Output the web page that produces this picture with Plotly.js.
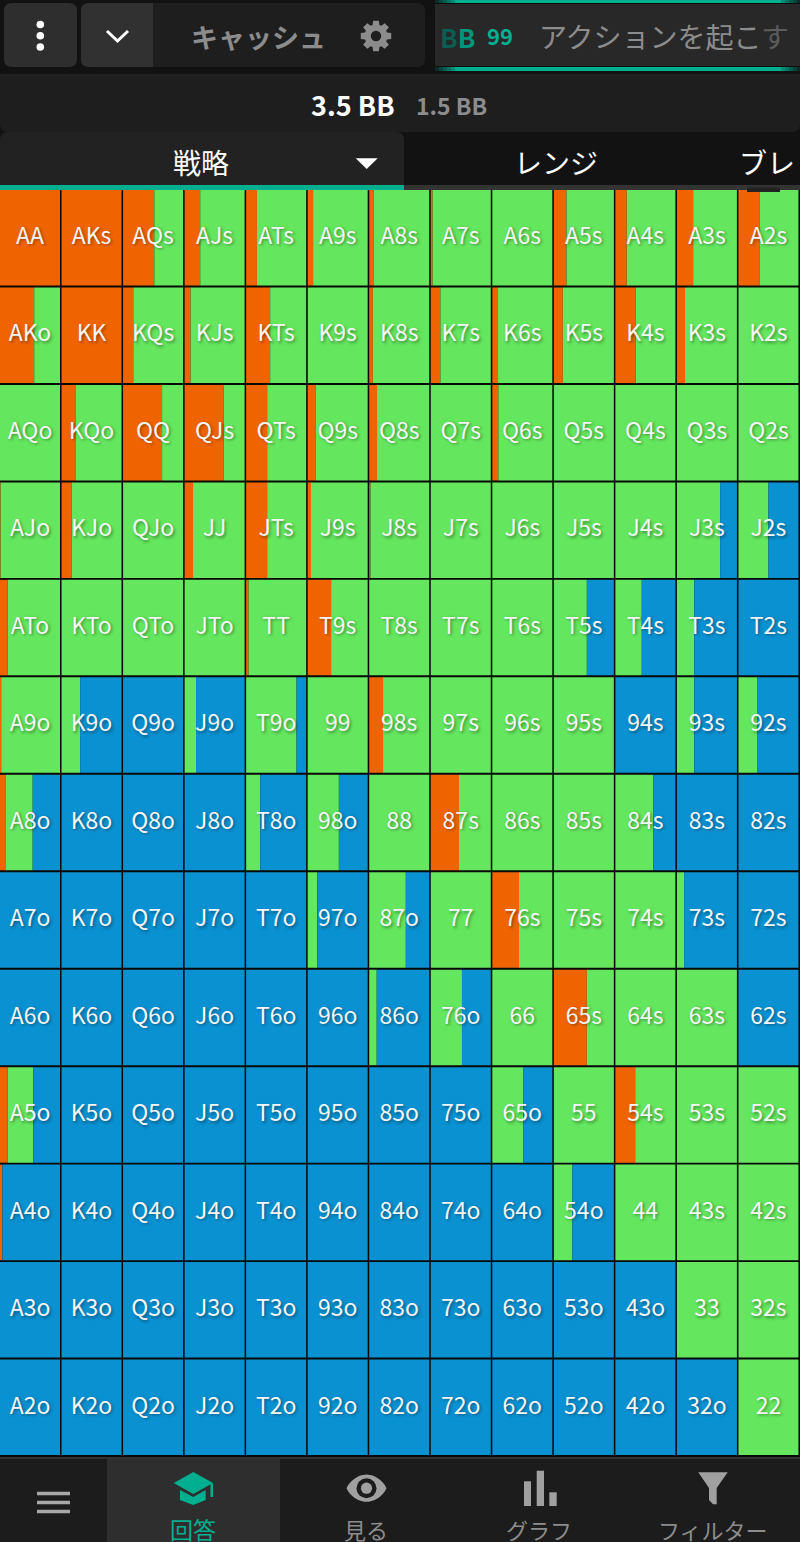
<!DOCTYPE html>
<html><head><meta charset="utf-8">
<script src="https://cdn.plot.ly/plotly-3.0.1.min.js"></script>
<style>html,body{margin:0;padding:0;background:#121212;overflow:hidden}#chart{width:800px;height:1542px}</style>
</head><body><div id="chart"></div>
<script>
const ranks = ['A','K','Q','J','T','9','8','7','6','5','4','3','2'];

const raiseShare = [
 [1,1,.52,.26,.18,.09,.07,.03,0,.21,.19,.27,.35],
 [.57,1,.17,.1,.4,.005,.06,.16,.095,.15,.34,.135,0],
 [0,.24,.65,.65,.35,.13,.13,0,.1,0,0,0,0],
 [.01,.17,0,.14,.35,.055,.02,0,0,0,0,0,0],
 [.13,0,0,0,.04,.39,0,0,0,0,0,0,0],
 [.02,0,0,0,0,0,.23,0,0,0,0,0,0],
 [.09,0,0,0,0,0,0,.47,0,0,0,0,0],
 [0,0,0,0,0,0,0,0,.445,0,0,0,0],
 [0,0,0,0,0,0,0,0,0,.55,0,0,0],
 [.13,0,0,0,0,0,0,0,0,0,.33,0,0],
 [.04,0,0,0,0,0,0,0,0,0,0,0,0],
 [0,0,0,0,0,0,0,0,0,0,0,0,0],
 [0,0,0,0,0,0,0,0,0,0,0,0,0]
];
const callShare = [
 [0,0,.48,.74,.82,.91,.93,.97,1,.79,.81,.73,.65],
 [.43,0,.83,.9,.6,.995,.94,.84,.905,.85,.66,.865,1],
 [1,.76,.35,.35,.65,.87,.87,1,.9,1,1,1,1],
 [.99,.83,1,.86,.65,.945,.98,1,1,1,1,.72,.5],
 [.87,1,1,1,.96,.61,1,1,1,.55,.44,.29,0],
 [.98,.31,0,.19,.84,1,.77,1,1,1,0,.29,.31],
 [.455,0,0,0,.235,.52,1,.53,1,1,.63,0,0],
 [0,0,0,0,0,.16,.61,1,.555,1,1,.12,0],
 [0,0,0,0,0,0,.125,.52,1,.45,1,1,0],
 [.425,0,0,0,0,0,0,0,.52,1,.67,1,1],
 [0,0,0,0,0,0,0,0,0,.31,1,1,1],
 [0,0,0,0,0,0,0,0,0,0,0,1,1],
 [0,0,0,0,0,0,0,0,0,0,0,0,1]
];
const foldShare = [
 [0,0,0,0,0,0,0,0,0,0,0,0,0],
 [0,0,0,0,0,0,0,0,0,0,0,0,0],
 [0,0,0,0,0,0,0,0,0,0,0,0,0],
 [0,0,0,0,0,0,0,0,0,0,0,.28,.5],
 [0,0,0,0,0,0,0,0,0,.45,.56,.71,1],
 [0,.69,1,.81,.16,0,0,0,0,0,1,.71,.69],
 [.455,1,1,1,.765,.48,0,0,0,0,.37,1,1],
 [1,1,1,1,1,.84,.39,0,0,0,0,.88,1],
 [1,1,1,1,1,1,.875,.48,0,0,0,0,1],
 [.445,1,1,1,1,1,1,1,.48,0,0,0,0],
 [.96,1,1,1,1,1,1,1,1,.69,0,0,0],
 [1,1,1,1,1,1,1,1,1,1,1,0,0],
 [1,1,1,1,1,1,1,1,1,1,1,1,0]
];

const W = 800, H = 1542;
const GRID_TOP = 190, GRID_BOTTOM = 1457;
const CELL_W = 0.975, CELL_H = 0.98;
const FONT = '"Noto Sans CJK JP","Noto Sans",sans-serif';
const TEAL = '#00ae90', GREY = '#8c8c8c';

/* hand matrix */
function handLabel(r, c) {
  if (r === c) return ranks[r] + ranks[c];
  return r < c ? ranks[r] + ranks[c] + 's' : ranks[c] + ranks[r] + 'o';
}
const bx = {raise: [], call: [], fold: []}, base = {raise: [], call: [], fold: []}, by = [];
const tx = [], ty = [], tt = [];
ranks.forEach((_, r) => ranks.forEach((_, c) => {
  const a = raiseShare[r][c], b = callShare[r][c], d = foldShare[r][c];
  bx.raise.push(a * CELL_W); base.raise.push(c);
  bx.call.push(b * CELL_W);  base.call.push(c + a * CELL_W);
  bx.fold.push(d * CELL_W);  base.fold.push(c + (a + b) * CELL_W);
  by.push(r + CELL_H / 2);
  tx.push(c + CELL_W / 2); ty.push(r + 0.495); tt.push(handLabel(r, c));
}));
const bar = (key, color) => ({
  type: 'bar', orientation: 'h', x: bx[key], base: base[key], y: by, width: CELL_H,
  marker: {color, line: {width: 0}}, hoverinfo: 'skip', showlegend: false
});
const traces = [
  bar('raise', '#f06400'), bar('call', '#64e65e'), bar('fold', '#0a91d1'),
  {type: 'scatter', mode: 'text', x: tx, y: ty, text: tt, textposition: 'middle center', cliponaxis: false,
   textfont: {family: FONT, size: 23, color: '#f6f6f6', shadow: '1.5px 1.5px 3px rgba(0,0,0,.38)'},
   hoverinfo: 'skip', showlegend: false}
];

/* app chrome, given in page pixels */
const px = v => v / W, py = v => 1 - v / H;
const shapes = [], notes = [];
function rect(x0, y0, x1, y1, color, layer) {
  shapes.push({type: 'rect', xref: 'paper', yref: 'paper', x0: px(x0), x1: px(x1), y0: py(y0), y1: py(y1),
    fillcolor: color, line: {width: 0}, layer: layer || 'below'});
}
function poly(pts, color, stroke, layer) {
  const path = 'M' + pts.map(p => px(p[0]) + ',' + py(p[1])).join('L') + (stroke ? '' : 'Z');
  shapes.push({type: 'path', xref: 'paper', yref: 'paper', path,
    fillcolor: stroke ? 'rgba(0,0,0,0)' : color,
    line: stroke ? {width: stroke, color} : {width: 0}, layer: layer || 'below'});
}
function round(x0, y0, x1, y1, color, rTL, rTR, rBR, rBL) {
  const pt = (x, y) => px(x) + ',' + py(y);
  const path = 'M' + pt(x0 + rTL, y0) + 'L' + pt(x1 - rTR, y0) + 'Q' + pt(x1, y0) + ' ' + pt(x1, y0 + rTR) +
    'L' + pt(x1, y1 - rBR) + 'Q' + pt(x1, y1) + ' ' + pt(x1 - rBR, y1) +
    'L' + pt(x0 + rBL, y1) + 'Q' + pt(x0, y1) + ' ' + pt(x0, y1 - rBL) +
    'L' + pt(x0, y0 + rTL) + 'Q' + pt(x0, y0) + ' ' + pt(x0 + rTL, y0) + 'Z';
  shapes.push({type: 'path', xref: 'paper', yref: 'paper', path, fillcolor: color, line: {width: 0}, layer: 'below'});
}
function dot(cx, cy, r, color) {
  shapes.push({type: 'circle', xref: 'paper', yref: 'paper', x0: px(cx - r), x1: px(cx + r), y0: py(cy + r), y1: py(cy - r),
    fillcolor: color, line: {width: 0}, layer: 'below'});
}
function label(text, x, y, size, color, bold) {
  notes.push({text: bold ? '<b>' + text + '</b>' : text, xref: 'paper', yref: 'paper', x: px(x), y: py(y),
    xanchor: 'center', yanchor: 'middle', showarrow: false,
    font: {family: FONT, size, color}});
}

/* header row */
round(4, 3, 77, 67, '#2e2e2e', 8, 8, 8, 8);
dot(40.3, 24.5, 3.8, '#fff'); dot(40.3, 35.8, 3.8, '#fff'); dot(40.3, 47, 3.8, '#fff');
round(81, 3, 425, 67, '#1e1e1e', 8, 8, 8, 8);
round(81, 3, 153, 67, '#313131', 8, 0, 0, 8);
poly([[107, 31], [117.5, 41], [128, 31]], '#fff', 3);
label('キャッシュ', 258, 36, 27, GREY, true);
const gear = [];
for (let i = 0; i < 8; i++) {
  const a = i * Math.PI / 4;
  [[-.30, 11.5], [-.19, 15.5], [.19, 15.5], [.30, 11.5]].forEach(p =>
    gear.push([376 + p[1] * Math.cos(a + p[0]), 36 + p[1] * Math.sin(a + p[0])]));
}
poly(gear, GREY);
dot(376, 36, 5.2, '#1e1e1e');

/* action panel */
rect(435, 0, 800, 71, '#0d0d0d');
rect(435, 4, 800, 66, '#282828');
rect(455, 0, 781, 3, TEAL); rect(455, 67, 781, 71, TEAL);
for (let i = 0; i < 5; i++) {
  const o = 0.2 + i * 0.15;
  const c = 'rgba(0,174,144,' + o + ')';
  rect(435 + i * 4, 0, 439 + i * 4, 3, c); rect(435 + i * 4, 67, 439 + i * 4, 71, c);
  const c2 = 'rgba(0,174,144,' + (0.8 - i * 0.15) + ')';
  rect(781 + i * 4, 0, 785 + i * 4, 3, c2); rect(781 + i * 4, 67, 785 + i * 4, 71, c2);
}
label('<span style="color:#0b5e52">B</span><span style="color:#00967d">B</span>', 457, 36, 26, TEAL, true);
label('99', 500, 35, 22, TEAL, true);
label('アクションを起こ<span style="color:#5c5c5c">す</span>', 664, 36, 28, GREY, false);

/* stake row */
round(0, 74, 800, 132, '#1e1e1e', 0, 0, 8, 8);
label('3.5 BB', 353, 105, 27, '#ffffff', true);
label('1.5 BB', 452, 105, 23, GREY, true);

/* tabs */
round(0, 132, 404, 186, '#222222', 8, 8, 0, 0);
rect(404, 185, 800, 190, '#333333');
rect(0, 185, 404, 190, TEAL);
label('戦略', 201, 162, 28, '#ffffff', false);
poly([[355.7, 158.3], [377.7, 158.3], [366.7, 169]], '#ffffff');
label('レンジ', 556, 162, 28, '#ffffff', false);
label('ブレ', 767, 162, 28, '#ffffff', false);
rect(747, 187.5, 780, 192, '#222222', 'above');

/* bottom nav */
rect(0, 1457, 800, 1542, '#1c1c1c');
rect(0, 1457, 800, 1459, '#333333');
rect(107, 1459, 280, 1542, '#2e2e2e');
[1491.7, 1500.7, 1509.7].forEach(y => rect(37, y, 70, y + 3.6, '#a8a8a8'));
poly([[173.7, 1483], [193.3, 1472], [213, 1483], [193.3, 1494]], TEAL);
poly([[180, 1490], [193.3, 1497], [205.7, 1490], [205.7, 1500], [193.3, 1505], [180, 1500]], TEAL);
poly([[210.5, 1484], [213, 1483], [213, 1497], [210.5, 1497]], TEAL);
label('回答', 193, 1529, 23, TEAL, false);

const eye = [];
for (let i = 0; i <= 24; i++) {
  const t = i / 12 - 1, s = 1 - t * t;
  eye.push([366.5 + 20 * t, 1488.2 - 13.6 * Math.pow(s, .8)]);
}
for (let i = 23; i > 0; i--) {
  const t = i / 12 - 1, s = 1 - t * t;
  eye.push([366.5 + 20 * t, 1488.2 + 13.6 * Math.pow(s, .8)]);
}
poly(eye, '#a0a0a0');
dot(366.5, 1488.2, 10, '#1c1c1c');
dot(366.5, 1488.2, 5.6, '#a0a0a0');
label('見る', 366, 1529, 22, GREY, false);

rect(524, 1481.3, 531, 1506, '#a0a0a0');
rect(536.7, 1470.7, 544, 1506, '#a0a0a0');
rect(549.3, 1492.3, 556.7, 1506, '#a0a0a0');
label('グラフ', 539, 1529, 22, GREY, false);

poly([[698.3, 1472.3], [727.7, 1472.3], [716.7, 1488], [716.7, 1504.3], [713, 1504.3], [709, 1500], [709, 1488]], '#a0a0a0');
label('フィルター', 713, 1529, 22, GREY, false);

Plotly.newPlot('chart', traces, {
  width: W, height: H, margin: {l: 0, r: 0, t: 0, b: 0},
  paper_bgcolor: '#121212', plot_bgcolor: '#080808',
  barmode: 'overlay', hovermode: false, showlegend: false,
  xaxis: {range: [0, 13], domain: [0, 1], visible: false, fixedrange: true},
  yaxis: {range: [13, 0], domain: [1 - GRID_BOTTOM / H, 1 - GRID_TOP / H], visible: false, fixedrange: true},
  shapes, annotations: notes
}, {displayModeBar: false, staticPlot: true});
</script></body></html>
